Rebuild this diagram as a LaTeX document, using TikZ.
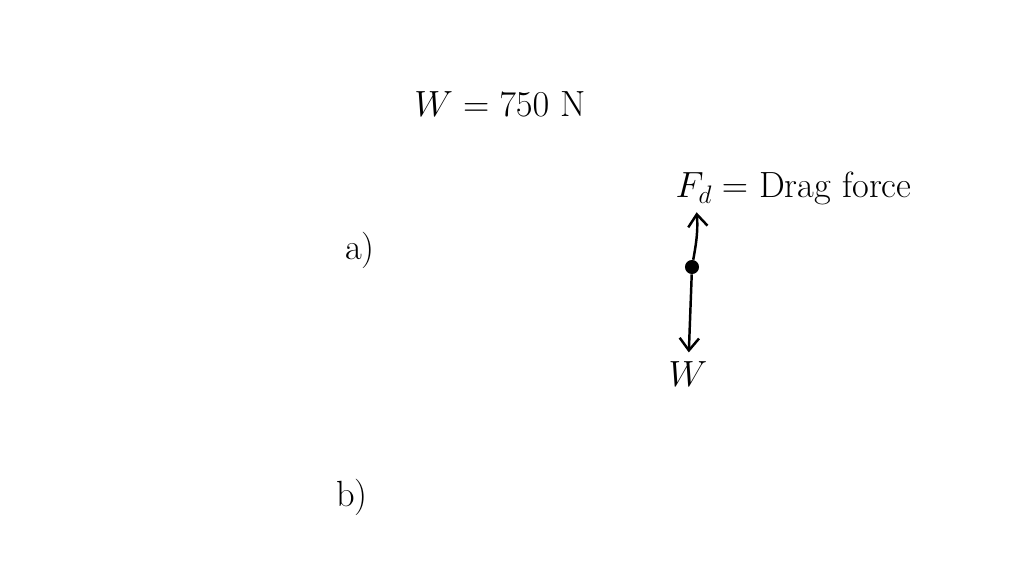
\documentclass[tikz,border=0pt]{standalone}
\usetikzlibrary{arrows.meta,positioning}
\tikzset{force/.style={line width=1.4pt,-{Straight Barb[length=7pt,width=11pt]}},
    handtext/.style={font=\huge,inner sep=1pt}}

\begin{document}
\begin{tikzpicture}[x=0.02cm,y=-0.02cm]
      \useasboundingbox (0,0) rectangle (1024,576);
      \node[handtext] (Wtot) at (500,104) {$W = 750$ N};
      \node[handtext] (Pa) at (360,250) {a)};
      \node[handtext] (Pb) at (352,497) {b)};

      \node[circle,fill,inner sep=0pt,minimum size=8pt] (P) at (692,267) {};
      \node[handtext] (Fd) at (694,188) {$F_d$};
      \node[handtext,right=3pt of Fd.east,anchor=west] (Drag) {$=$ Drag force};
      \node[handtext] (W) at (688,374) {$W$};
      \draw[force,shorten >=4pt] (P) to[bend right=8] (Fd);
      \draw[force,shorten >=4pt] (P) -- (W);
    \end{tikzpicture}
\end{document}
